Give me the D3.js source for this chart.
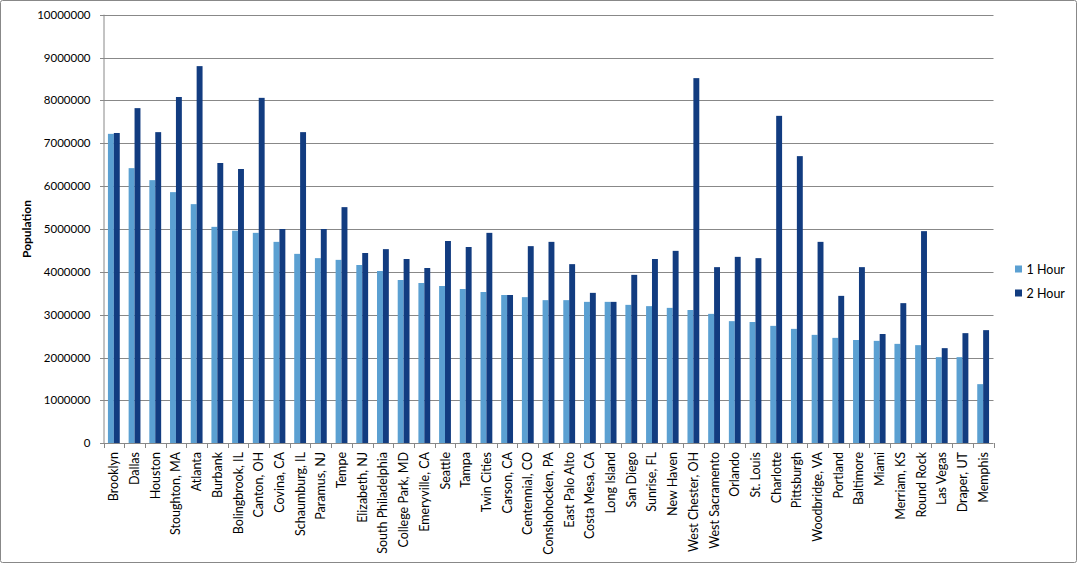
<!DOCTYPE html>
<html>
<head>
<meta charset="utf-8">
<script src="https://d3js.org/d3.v7.min.js"></script>
<style>
  html, body { margin: 0; padding: 0; background: #fff; }
  svg { display: block; }
  text { font-family: Lato, "Open Sans", sans-serif; fill: #000; }
</style>
</head>
<body>
<svg id="chart" width="1077" height="563"></svg>
<script>
const categories = ["Brooklyn","Dallas","Houston","Stoughton, MA","Atlanta","Burbank","Bolingbrook, IL","Canton, OH","Covina, CA","Schaumburg, IL","Paramus, NJ","Tempe","Elizabeth, NJ","South Philadelphia","College Park, MD","Emeryville, CA","Seattle","Tampa","Twin Cities","Carson, CA","Centennial, CO","Conshohocken, PA","East Palo Alto","Costa Mesa, CA","Long Island","San Diego","Sunrise, FL","New Haven","West Chester, OH","West Sacramento","Orlando","St. Louis","Charlotte","Pittsburgh","Woodbridge, VA","Portland","Baltimore","Miami","Merriam, KS","Round Rock","Las Vegas","Draper, UT","Memphis"];
const oneHour = [7220000,6420000,6140000,5860000,5580000,5050000,4960000,4910000,4700000,4420000,4320000,4280000,4160000,4020000,3810000,3740000,3670000,3600000,3530000,3460000,3410000,3340000,3340000,3300000,3300000,3230000,3200000,3160000,3110000,3020000,2850000,2830000,2740000,2670000,2530000,2460000,2410000,2390000,2320000,2290000,2010000,2010000,1380000];
const twoHour = [7240000,7820000,7260000,8080000,8800000,6540000,6400000,8060000,5000000,7260000,5000000,5510000,4440000,4530000,4300000,4090000,4720000,4580000,4910000,3460000,4600000,4700000,4180000,3510000,3300000,3930000,4300000,4490000,8520000,4110000,4350000,4320000,7640000,6700000,4700000,3440000,4110000,2550000,3270000,4950000,2220000,2570000,2640000];
const seriesNames = ["1 Hour","2 Hour"];
const yTicks = [0,1000000,2000000,3000000,4000000,5000000,6000000,7000000,8000000,9000000,10000000];
const yTitle = "Population";

const colors = ["#5BA0D2", "#123C80"];
const gridColor = "#888888";

const svg = d3.select("#chart");

// outer frame
svg.append("rect")
  .attr("x", 0.5).attr("y", 0.5).attr("width", 1076).attr("height", 562)
  .attr("rx", 2).attr("fill", "#fff").attr("stroke", gridColor).attr("stroke-width", 1);

const pLeft = 103.5, pRight = 993.5, pTop = 14.7, pBottom = 443.3;

const x = d3.scaleBand().domain(categories).range([pLeft, pRight]).paddingInner(0).paddingOuter(0);
const bw = x.bandwidth();
const gap = bw * 0.75 / 3.5;
const x1 = d3.scaleBand().domain(seriesNames).range([gap, bw - gap]).padding(0);
const y = d3.scaleLinear().domain([0, 10000000]).range([pBottom, pTop]);

// gridlines
svg.append("g").selectAll("line").data(yTicks.filter(d => d > 0)).join("line")
  .attr("x1", pLeft).attr("x2", pRight)
  .attr("y1", d => Math.round(y(d)) + 0.5).attr("y2", d => Math.round(y(d)) + 0.5)
  .attr("stroke", gridColor).attr("stroke-width", 1);

// bars
const data = categories.map((c, i) => ({ c, vals: [oneHour[i], twoHour[i]] }));
const groups = svg.append("g").selectAll("g").data(data).join("g")
  .attr("transform", d => `translate(${x(d.c)},0)`);
groups.selectAll("rect").data(d => d.vals.map((v, k) => ({ s: seriesNames[k], v, k })))
  .join("rect")
  .attr("x", d => x1(d.s))
  .attr("width", x1.bandwidth())
  .attr("y", d => y(d.v))
  .attr("height", d => y(0) - y(d.v))
  .attr("fill", d => colors[d.k]);

// y axis
const yAxis = d3.axisLeft(y).tickValues(yTicks).tickFormat(d3.format("d")).tickSize(4).tickSizeOuter(0).tickPadding(9);
const yg = svg.append("g").attr("transform", `translate(${pLeft},0)`).call(yAxis);
yg.select(".domain").attr("stroke", gridColor).attr("d", `M0.5,${pTop}V${pBottom}`);
yg.selectAll(".tick line").attr("stroke", gridColor).attr("transform", "translate(0.5,0)");
yg.selectAll(".tick").attr("transform", d => `translate(0,${Math.round(y(d)) + 0.5})`);
yg.selectAll("text").attr("font-family", "Lato, sans-serif").attr("font-size", 11.5).attr("fill", "#000");

// x axis
const xg = svg.append("g");
xg.append("line").attr("x1", pLeft).attr("x2", pRight)
  .attr("y1", Math.round(pBottom) + 0.5).attr("y2", Math.round(pBottom) + 0.5)
  .attr("stroke", gridColor);
const bounds = categories.map(c => x(c)).concat([pRight]);
xg.selectAll("line.tk").data(bounds).join("line").attr("class", "tk")
  .attr("x1", d => Math.round(d) + 0.5).attr("x2", d => Math.round(d) + 0.5)
  .attr("y1", Math.round(pBottom)).attr("y2", Math.round(pBottom) + 5)
  .attr("stroke", gridColor);
xg.selectAll("text").data(categories).join("text")
  .attr("transform", d => `translate(${x(d) + bw / 2 + 4.5},452) rotate(-90)`)
  .attr("text-anchor", "end")
  .attr("font-size", 12.5)
  .text(d => d);

// y title
svg.append("text")
  .attr("transform", "translate(31,229) rotate(-90)")
  .attr("text-anchor", "middle")
  .attr("font-size", 12)
  .attr("font-weight", "bold")
  .text(yTitle);

// legend
const lg = svg.append("g").selectAll("g").data(seriesNames).join("g")
  .attr("transform", (d, i) => `translate(1015,${269 + i * 24})`);
lg.append("rect").attr("x", 0).attr("y", -3.5).attr("width", 7).attr("height", 7)
  .attr("fill", (d, i) => colors[i]);
lg.append("text").attr("x", 11.5).attr("y", 4.5).attr("font-size", 12.5).text(d => d);
</script>
</body>
</html>
